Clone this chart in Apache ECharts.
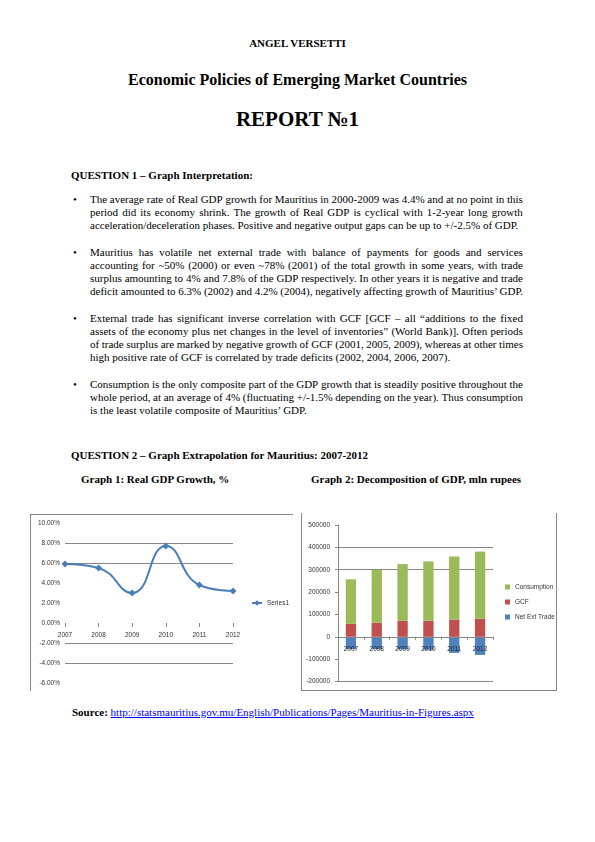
<!DOCTYPE html>
<html><head><meta charset="utf-8">
<script src="https://cdn.jsdelivr.net/npm/echarts@6/dist/echarts.min.js"></script>
<style>
html,body{margin:0;padding:0;background:#fff;}
#page{position:relative;width:595px;height:842px;overflow:hidden;font-family:"Liberation Serif","Times New Roman",serif;color:#000;}
.t{position:absolute;white-space:nowrap;}
.b{font-weight:bold;}
.ctr{left:0;width:595px;text-align:center;}
.line{position:absolute;left:90px;width:433px;height:13px;line-height:13px;font-size:11px;white-space:nowrap;}
.just{display:flex;justify-content:space-between;}
.bullet{position:absolute;left:73px;width:8px;height:13px;line-height:13px;font-size:11px;}
.frame{position:absolute;box-sizing:border-box;border:0 solid #868686;}
.chart{position:absolute;}
a{color:#0000ff;text-decoration:underline;}
</style></head>
<body>
<div id="page">
  <div class="t b ctr" style="top:36px;font-size:11px;line-height:14px;">ANGEL VERSETTI</div>
  <div class="t b ctr" style="top:70px;font-size:16px;line-height:20px;">Economic Policies of Emerging Market Countries</div>
  <div class="t b ctr" style="top:106px;font-size:21px;line-height:26px;">REPORT №1</div>
  <div class="t b" style="left:71px;top:168px;font-size:11px;line-height:14px;">QUESTION 1 – Graph Interpretation:</div>
  <div id="bullets"></div>
  <div class="t b" style="left:71px;top:448px;font-size:11px;line-height:14px;">QUESTION 2 – Graph Extrapolation for Mauritius: 2007-2012</div>
  <div class="t b" style="left:81px;top:472px;font-size:11px;line-height:14px;">Graph 1: Real GDP Growth, %</div>
  <div class="t b" style="left:311px;top:472px;font-size:11px;line-height:14px;">Graph 2: Decomposition of GDP, mln rupees</div>

  <div class="frame" style="left:30px;top:514px;width:263px;height:177px;border-top-width:1px;border-left-width:1px;"></div>
  <div class="frame" style="left:301px;top:513px;width:256px;height:178px;border-left-width:1px;border-right-width:1px;border-bottom-width:1px;"></div>
  <div id="c1" class="chart" style="left:31px;top:515px;width:262px;height:175px;"></div>
  <div id="c2" class="chart" style="left:302px;top:513px;width:254px;height:177px;"></div>

  <div class="t" style="left:72px;top:705px;font-size:11px;line-height:14px;"><span class="b">Source:</span> <a>http://statsmauritius.gov.mu/English/Publications/Pages/Mauritius-in-Figures.aspx</a></div>
</div>
<script>
// ---- chart data ----
const years = ['2007', '2008', '2009', '2010', '2011', '2012'];
const gdpGrowth = [5.9, 5.5, 3.0, 7.7, 3.8, 3.2];           // Real GDP growth, %
const growthTicks = {min: -6, max: 10, step: 2};
const growthGridLines = [8, 6, -2, -4];                      // gridlines visible in graph 1
const netExtTrade = [-55000, -55000, -56000, -58000, -72000, -81000];
const gcf = [58000, 63000, 72000, 72000, 77000, 81000];
const consumption = [199000, 236000, 253000, 265000, 282000, 300000];
const decompTicks = {min: -200000, max: 500000, step: 100000};
const decompGridLines = [400000, 300000, -200000];           // gridlines visible in graph 2

// ---- text ----
const paragraphs = [
  ["The average rate of Real GDP growth for Mauritius in 2000-2009 was 4.4% and at no point in this",
   "period did its economy shrink. The growth of Real GDP is cyclical with 1-2-year long growth",
   "acceleration/deceleration phases. Positive and negative output gaps can be up to +/-2.5% of GDP."],
  ["Mauritius has volatile net external trade with balance of payments for goods and services",
   "accounting for ~50% (2000) or even ~78% (2001) of the total growth in some years, with trade",
   "surplus amounting to 4% and 7.8% of the GDP respectively. In other years it is negative and trade",
   "deficit amounted to 6.3% (2002) and 4.2% (2004), negatively affecting growth of Mauritius’ GDP."],
  ["External trade has significant inverse correlation with GCF [GCF – all “additions to the fixed",
   "assets of the economy plus net changes in the level of inventories” (World Bank)]. Often periods",
   "of trade surplus are marked by negative growth of GCF (2001, 2005, 2009), whereas at other times",
   "high positive rate of GCF is correlated by trade deficits (2002, 2004, 2006, 2007)."],
  ["Consumption is the only composite part of the GDP growth that is steadily positive throughout the",
   "whole period, at an average of 4% (fluctuating +/-1.5% depending on the year). Thus consumption",
   "is the least volatile composite of Mauritius’ GDP."]
];
const paraStart = [199, 252, 318, 384];
const pitch = 13.25;
const host = document.getElementById('bullets');
paragraphs.forEach((lines, p) => {
  const bl = document.createElement('div');
  bl.className = 'bullet';
  bl.style.top = (paraStart[p] - 6.5) + 'px';
  bl.textContent = '•';
  host.appendChild(bl);
  lines.forEach((ln, i) => {
    const d = document.createElement('div');
    d.className = 'line';
    d.style.top = (paraStart[p] + i * pitch - 6.5) + 'px';
    if (i < lines.length - 1) {
      d.classList.add('just');
      ln.split(' ').forEach(w => { const s = document.createElement('span'); s.textContent = w; d.appendChild(s); });
    } else {
      d.textContent = ln;
    }
    host.appendChild(d);
  });
});

// ---- Graph 1 ----
const axisGrey = '#868686';
const lblColor = '#333';
const g1 = {left: 34, top: 8, width: 168, height: 160};
// place the category axis where value 0 sits (as in the original)
const g1ZeroOffset = -g1.height * (0 - growthTicks.min) / (growthTicks.max - growthTicks.min);
const c1 = echarts.init(document.getElementById('c1'));
c1.setOption({
  animation: false,
  textStyle: {fontFamily: 'Liberation Sans'},
  grid: g1,
  legend: {data: ['Series1'], left: 220, top: 84, padding: 0, itemWidth: 10, itemHeight: 7,
           textStyle: {fontSize: 6.5, color: lblColor, lineHeight: 8}},
  xAxis: {type: 'category', data: years, boundaryGap: false, offset: g1ZeroOffset,
          axisLine: {show: false, onZero: false},
          axisTick: {show: true, length: 4, lineStyle: {color: axisGrey}},
          axisLabel: {fontSize: 6.5, color: lblColor, margin: 9}},
  yAxis: {type: 'value', min: growthTicks.min, max: growthTicks.max, interval: growthTicks.step,
          axisLine: {show: false}, axisTick: {show: false}, splitLine: {show: false},
          axisLabel: {fontSize: 6.5, color: lblColor, margin: 5, formatter: v => v.toFixed(2) + '%'}},
  series: [{
    name: 'Series1', type: 'line', data: gdpGrowth, smooth: 0.5,
    symbol: 'diamond', symbolSize: 7,
    itemStyle: {color: '#4a7ebb'}, lineStyle: {color: '#4a7ebb', width: 2},
    markLine: {silent: true, symbol: 'none', z: 1, label: {show: false},
               lineStyle: {color: axisGrey, type: 'solid', width: 1},
               data: growthGridLines.map(v => ({yAxis: v}))}
  }]
});

// ---- Graph 2 ----
const g2 = {left: 36, top: 12, width: 155, height: 156.5};
const g2ZeroOffset = -g2.height * (0 - decompTicks.min) / (decompTicks.max - decompTicks.min);
const c2 = echarts.init(document.getElementById('c2'));
c2.setOption({
  animation: false,
  textStyle: {fontFamily: 'Liberation Sans'},
  grid: g2,
  legend: {orient: 'vertical', data: ['Consumption', 'GCF', 'Net Ext Trade'], left: 203, top: 70,
           padding: 0, icon: 'rect', itemWidth: 5, itemHeight: 5, itemGap: 7,
           textStyle: {fontSize: 6.5, color: lblColor, lineHeight: 8}},
  xAxis: {type: 'category', data: years, z: 5, offset: g2ZeroOffset,
          axisLine: {show: true, onZero: false, lineStyle: {color: axisGrey}},
          axisTick: {show: true, length: 3, lineStyle: {color: axisGrey}},
          axisLabel: {fontSize: 6.5, color: '#222', margin: 9}},
  yAxis: {type: 'value', min: decompTicks.min, max: decompTicks.max, interval: decompTicks.step,
          axisLine: {show: true, lineStyle: {color: axisGrey}},
          axisTick: {show: true, length: 3, lineStyle: {color: axisGrey}},
          splitLine: {show: false},
          axisLabel: {fontSize: 6.5, color: lblColor, margin: 8, formatter: v => String(v)}},
  series: [
    {name: 'Net Ext Trade', type: 'bar', stack: 'gdp', data: netExtTrade, barWidth: '40%',
     itemStyle: {color: '#4f81bd'}, z: 3,
     markLine: {silent: true, symbol: 'none', z: 1, label: {show: false},
                lineStyle: {color: axisGrey, type: 'solid', width: 1},
                data: decompGridLines.map(v => ({yAxis: v}))}},
    {name: 'GCF', type: 'bar', stack: 'gdp', data: gcf, z: 3, itemStyle: {color: '#c0504d'}},
    {name: 'Consumption', type: 'bar', stack: 'gdp', data: consumption, z: 3, itemStyle: {color: '#9bbb59'}}
  ]
});
</script>
</body></html>
